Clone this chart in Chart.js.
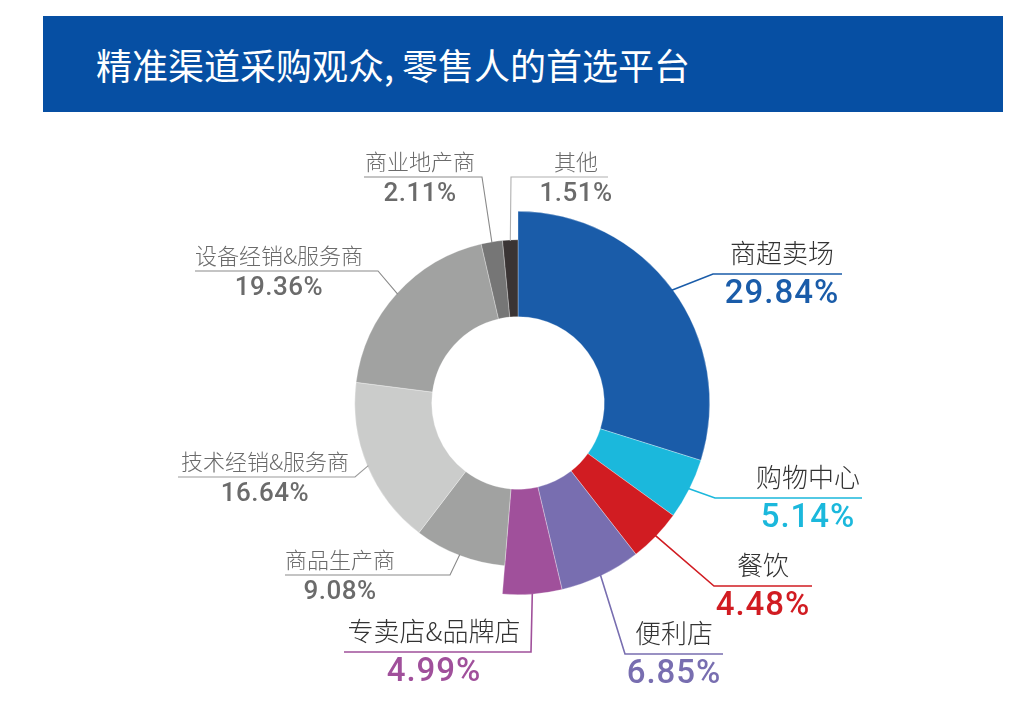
<!DOCTYPE html>
<html lang="zh-CN">
<head>
    <meta charset="UTF-8">
    <title>精准渠道采购观众, 零售人的首选平台</title>
    <style>
        body {
            margin: 0;
            background: #fff;
            font-family: "Noto Sans CJK SC", sans-serif;
        }
        .page {
            position: relative;
            width: 1036px;
            height: 703px;
            overflow: hidden;
        }
        .banner {
            position: absolute;
            left: 43px;
            top: 16px;
            width: 960px;
            height: 96px;
            background: #064fa3;
            color: #fff;
            font-size: 36px;
            font-weight: 400;
            line-height: 96px;
            padding-left: 53px;
            box-sizing: border-box;
            z-index: 2;
        }
        .chart-box {
            position: absolute;
            left: 0;
            top: 0;
            width: 1036px;
            height: 703px;
        }
    </style>
</head>
<body>
<div class="page">
    <div class="banner">精准渠道采购观众, 零售人的首选平台</div>
    <div class="chart-box"><canvas id="shareChart"></canvas></div>
</div>

<script src="https://cdn.jsdelivr.net/npm/chart.js"></script>
<script>
    // audience share by channel, clockwise from 12 o'clock
    const categories = ['商超卖场', '购物中心', '餐饮', '便利店', '专卖店&品牌店',
        '商品生产商', '技术经销&服务商', '设备经销&服务商', '商业地产商', '其他'];
    const shares = [29.84, 5.14, 4.48, 6.85, 4.99, 9.08, 16.64, 19.36, 2.11, 1.51];

    const sliceColors = ['#1a5ca9', '#1bb8dc', '#d11c22', '#786eb0', '#a0509b',
        '#a1a2a1', '#cbcccb', '#a1a2a1', '#767676', '#3a3434'];
    // retail channels are drawn as a thicker ring
    const raised = [true, true, true, true, true, false, false, false, false, false];
    const GRAY_RING = 0.73;

    // leader line layout, offsets from the doughnut centre
    // ex/ey = elbow, x2 = end of the underline, tx = text centre
    const labelLayout = [
        {ex: 195, ey: -129, x2: 324, tx: 264},
        {ex: 197, ey: 95, x2: 344, tx: 290},
        {ex: 196, ey: 183, x2: 294, tx: 245},
        {ex: 107, ey: 251, x2: 205, tx: 156},
        {ex: 13, ey: 249, x2: -174, tx: -84},
        {ex: -68, ey: 172, x2: -233, tx: -178},
        {ex: -163, ey: 74, x2: -340, tx: -253},
        {ex: -140, ey: -132, x2: -323, tx: -239},
        {ex: -36, ey: -226, x2: -154, tx: -98},
        {ex: -7, ey: -226, x2: 90, tx: 58}
    ];
    const leaderColors = ['#1a5ca9', '#1bb8dc', '#d11c22', '#786eb0', '#a0509b',
        '#8a8a8a', '#9a9a9a', '#8a8a8a', '#8a8a8a', '#b0b0b0'];

    const ringShrink = {
        id: 'ringShrink',
        afterDatasetsUpdate(chart) {
            chart.getDatasetMeta(0).data.forEach((arc, i) => {
                if (!raised[i]) {
                    arc.outerRadius = arc.innerRadius + (arc.outerRadius - arc.innerRadius) * GRAY_RING;
                }
            });
        }
    };

    const leaderLabels = {
        id: 'leaderLabels',
        afterDraw(chart) {
            const ctx = chart.ctx;
            chart.getDatasetMeta(0).data.forEach((arc, i) => {
                const lay = labelLayout[i];
                const cx = arc.x, cy = arc.y;
                const mid = (arc.startAngle + arc.endAngle) / 2;
                const ax = cx + Math.cos(mid) * (arc.outerRadius - 1);
                const ay = cy + Math.sin(mid) * (arc.outerRadius - 1);

                ctx.save();
                ctx.strokeStyle = leaderColors[i];
                ctx.lineWidth = raised[i] ? 1.6 : 1.1;
                ctx.beginPath();
                ctx.moveTo(ax, ay);
                ctx.lineTo(cx + lay.ex, cy + lay.ey);
                ctx.lineTo(cx + lay.x2, cy + lay.ey);
                ctx.stroke();

                ctx.textAlign = 'center';
                ctx.textBaseline = 'middle';
                const tx = cx + lay.tx;
                if (raised[i]) {
                    ctx.fillStyle = '#333';
                    ctx.font = '300 26px "Noto Sans CJK SC"';
                    ctx.fillText(categories[i], tx, cy + lay.ey - 21);
                    ctx.fillStyle = sliceColors[i];
                    ctx.letterSpacing = '1px';
                    ctx.font = '500 33px Roboto, "Liberation Sans"';
                    ctx.fillText(shares[i].toFixed(2) + '%', tx, cy + lay.ey + 21);
                } else {
                    ctx.fillStyle = '#6b6b6b';
                    ctx.font = '300 22px "Noto Sans CJK SC"';
                    ctx.fillText(categories[i], tx, cy + lay.ey - 15);
                    ctx.letterSpacing = '0.5px';
                    ctx.font = '500 26px Roboto, "Liberation Sans"';
                    ctx.fillText(shares[i].toFixed(2) + '%', tx, cy + lay.ey + 17);
                }
                ctx.restore();
            });
        }
    };

    const ctxShare = document.getElementById('shareChart').getContext('2d');
    new Chart(ctxShare, {
        type: 'doughnut',
        data: {
            labels: categories,
            datasets: [{
                data: shares,
                backgroundColor: sliceColors,
                borderColor: 'rgba(255,255,255,0.5)',
                borderWidth: 0.6
            }]
        },
        options: {
            responsive: true,
            maintainAspectRatio: false,
            animation: false,
            cutout: '45%',
            layout: {
                padding: {top: 211, bottom: 108, left: 326, right: 326}
            },
            plugins: {
                legend: {display: false},
                tooltip: {enabled: false}
            }
        },
        plugins: [ringShrink, leaderLabels]
    });
</script>
</body>
</html>
